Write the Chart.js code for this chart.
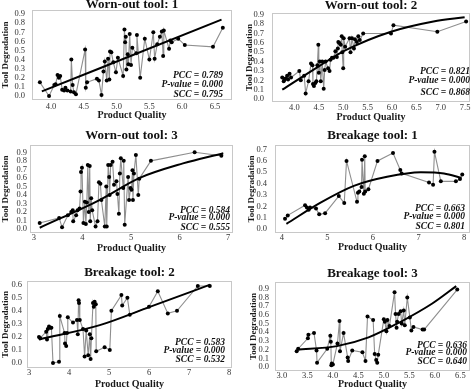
<!DOCTYPE html>
<html>
<head>
<meta charset="utf-8">
<script src="https://cdn.jsdelivr.net/npm/chart.js@4.4.1/dist/chart.umd.min.js"></script>
<style>
  body { margin: 0; background: #fff; }
  #wrap { position: relative; width: 474px; height: 390px; overflow: hidden; }
  .panel { position: absolute; width: 237px; height: 130px; }
</style>
</head>
<body>
<div id="wrap">
  <div class="panel" style="left:0;top:0"><canvas id="c1"></canvas></div>
  <div class="panel" style="left:237px;top:0"><canvas id="c2"></canvas></div>
  <div class="panel" style="left:0;top:130px"><canvas id="c3"></canvas></div>
  <div class="panel" style="left:237px;top:130px"><canvas id="c4"></canvas></div>
  <div class="panel" style="left:0;top:260px"><canvas id="c5"></canvas></div>
  <div class="panel" style="left:237px;top:260px"><canvas id="c6"></canvas></div>
</div>
<script>
const SERIF = "'Liberation Serif', 'Times New Roman', serif";

// Worn-out tool: 1
const wear1Quality = [3.83, 3.97, 4.05, 4.07, 4.10, 4.12, 4.14, 4.17, 4.20, 4.22, 4.25, 4.30, 4.31, 4.33, 4.35, 4.38, 4.52, 4.53, 4.55, 4.70, 4.73, 4.77, 4.80, 4.82, 4.85, 4.87, 4.89, 4.90, 4.92, 4.95, 4.99, 5.02, 5.10, 5.12, 5.13, 5.14, 5.15, 5.17, 5.18, 5.20, 5.22, 5.24, 5.30, 5.31, 5.36, 5.43, 5.50, 5.56, 5.58, 5.62, 5.66, 5.69, 5.71, 5.72, 5.80, 5.82, 5.84, 5.94, 6.04, 6.47, 6.62];
const wear1Degradation = [0.15, 0.00, 0.12, 0.13, 0.23, 0.20, 0.22, 0.07, 0.06, 0.09, 0.06, 0.05, 0.40, 0.12, 0.04, 0.02, 0.51, 0.09, 0.15, 0.19, 0.17, 0.01, 0.27, 0.38, 0.17, 0.41, 0.18, 0.49, 0.48, 0.37, 0.26, 0.42, 0.22, 0.73, 0.59, 0.65, 0.29, 0.46, 0.35, 0.68, 0.34, 0.53, 0.47, 0.67, 0.20, 0.63, 0.40, 0.70, 0.41, 0.57, 0.65, 0.71, 0.44, 0.72, 0.52, 0.61, 0.59, 0.63, 0.56, 0.54, 0.75];
const wear1FitQuality = [3.86, 6.60];
const wear1FitDegradation = [0.05, 0.84];

// Worn-out tool: 2
const wear2Quality = [3.75, 3.78, 3.80, 3.82, 3.85, 3.87, 3.90, 3.93, 4.10, 4.13, 4.20, 4.23, 4.29, 4.34, 4.37, 4.38, 4.40, 4.43, 4.45, 4.47, 4.49, 4.50, 4.52, 4.54, 4.57, 4.60, 4.62, 4.64, 4.69, 4.72, 4.74, 4.77, 4.80, 4.84, 4.87, 4.89, 4.90, 4.92, 4.95, 4.97, 4.98, 5.00, 5.01, 5.04, 5.13, 5.15, 5.18, 5.22, 5.24, 5.28, 5.31, 5.34, 5.41, 5.98, 6.03, 6.93, 7.52];
const wear2Degradation = [0.23, 0.19, 0.21, 0.22, 0.25, 0.21, 0.27, 0.23, 0.30, 0.20, 0.25, 0.06, 0.19, 0.38, 0.36, 0.16, 0.14, 0.17, 0.19, 0.36, 0.58, 0.28, 0.40, 0.19, 0.40, 0.11, 0.31, 0.40, 0.33, 0.30, 0.42, 0.44, 0.44, 0.51, 0.45, 0.54, 0.61, 0.60, 0.58, 0.67, 0.50, 0.33, 0.65, 0.56, 0.65, 0.50, 0.65, 0.54, 0.64, 0.61, 0.67, 0.63, 0.70, 0.70, 0.79, 0.72, 0.83];
const wear2FitQuality = [3.75, 4.5, 5.04, 5.98, 6.85, 7.49];
const wear2FitDegradation = [0.10, 0.35, 0.52, 0.72, 0.83, 0.875];

// Worn-out tool: 3
const wear3Quality = [3.12, 3.52, 3.58, 3.70, 3.77, 3.80, 3.81, 3.87, 3.90, 3.94, 3.96, 3.97, 3.99, 4.02, 4.05, 4.07, 4.09, 4.11, 4.13, 4.15, 4.16, 4.18, 4.20, 4.27, 4.31, 4.34, 4.37, 4.39, 4.46, 4.49, 4.50, 4.53, 4.55, 4.56, 4.58, 4.62, 4.65, 4.70, 4.72, 4.75, 4.77, 4.79, 4.84, 4.85, 4.87, 4.94, 4.96, 4.99, 5.01, 5.03, 5.04, 5.06, 5.10, 5.15, 5.17, 5.41, 6.31, 6.86];
const wear3Degradation = [0.07, 0.13, 0.02, 0.16, 0.20, 0.22, 0.09, 0.16, 0.22, 0.24, 0.44, 0.67, 0.72, 0.07, 0.32, 0.06, 0.31, 0.75, 0.20, 0.74, 0.09, 0.36, 0.22, 0.03, 0.09, 0.55, 0.53, 0.34, 0.03, 0.50, 0.03, 0.75, 0.61, 0.40, 0.75, 0.79, 0.52, 0.56, 0.41, 0.18, 0.65, 0.83, 0.48, 0.80, 0.05, 0.61, 0.34, 0.48, 0.46, 0.69, 0.34, 0.65, 0.87, 0.40, 0.59, 0.80, 0.90, 0.86];
const wear3FitQuality = [3.12, 4.35, 5.18, 6.07, 6.9];
const wear3FitDegradation = [0.015, 0.34, 0.60, 0.77, 0.89];

// Breakage tool: 1
const break1Quality = [4.07, 4.13, 4.51, 4.55, 4.59, 4.62, 4.75, 4.82, 4.95, 5.25, 5.37, 5.42, 5.65, 5.67, 5.70, 5.75, 5.76, 5.80, 5.82, 5.83, 5.90, 6.10, 6.44, 6.60, 6.63, 7.23, 7.32, 7.35, 7.49, 7.82, 7.91, 7.96];
const break1Degradation = [0.09, 0.12, 0.21, 0.19, 0.17, 0.19, 0.18, 0.13, 0.14, 0.29, 0.23, 0.60, 0.24, 0.32, 0.33, 0.37, 0.61, 0.31, 0.64, 0.33, 0.35, 0.60, 0.67, 0.52, 0.49, 0.41, 0.39, 0.68, 0.42, 0.42, 0.44, 0.48];
const break1FitQuality = [4.1, 4.84, 5.58, 6.31, 7.05, 7.56, 7.94];
const break1FitDegradation = [0.045, 0.23, 0.38, 0.46, 0.50, 0.49, 0.45];

// Breakage tool: 2
const break2Quality = [3.25, 3.28, 3.43, 3.45, 3.47, 3.50, 3.53, 3.56, 3.60, 3.75, 3.77, 3.89, 3.90, 3.93, 3.95, 3.97, 4.10, 4.20, 4.22, 4.24, 4.25, 4.27, 4.35, 4.39, 4.43, 4.48, 4.52, 4.54, 4.56, 4.60, 4.62, 4.64, 4.67, 4.68, 4.89, 5.02, 5.06, 5.31, 5.33, 5.46, 5.52, 6.00, 6.22, 6.47, 6.70, 7.22, 7.52];
const break2Degradation = [0.20, 0.19, 0.24, 0.18, 0.26, 0.28, 0.27, 0.27, 0.00, 0.01, 0.36, 0.23, 0.15, 0.13, 0.23, 0.35, 0.31, 0.33, 0.22, 0.48, 0.46, 0.33, 0.26, 0.05, 0.25, 0.06, 0.22, 0.03, 0.19, 0.46, 0.43, 0.47, 0.45, 0.09, 0.12, 0.10, 0.40, 0.52, 0.44, 0.50, 0.37, 0.43, 0.55, 0.38, 0.40, 0.59, 0.59];
const break2FitQuality = [3.25, 4.77, 6.02, 7.53];
const break2FitDegradation = [0.18, 0.29, 0.43, 0.60];

// Breakage tool: 3
const break3Quality = [3.29, 3.32, 3.51, 3.52, 3.63, 3.68, 3.69, 3.89, 3.95, 3.96, 3.97, 3.98, 4.00, 4.09, 4.13, 4.14, 4.21, 4.29, 4.30, 4.38, 4.58, 4.64, 4.68, 4.79, 4.82, 4.85, 4.87, 4.89, 5.00, 5.02, 5.05, 5.07, 5.11, 5.21, 5.23, 5.25, 5.26, 5.29, 5.33, 5.35, 5.39, 5.41, 5.46, 5.51, 5.54, 5.58, 5.76, 5.79, 6.44];
const break3Degradation = [0.18, 0.21, 0.33, 0.37, 0.39, 0.19, 0.05, 0.21, 0.36, 0.29, 0.02, 0.04, 0.03, 0.27, 0.53, 0.18, 0.39, 0.11, 0.07, 0.19, 0.17, 0.07, 0.58, 0.54, 0.15, 0.08, 0.05, 0.14, 0.55, 0.52, 0.41, 0.54, 0.47, 0.86, 0.61, 0.45, 0.52, 0.61, 0.64, 0.50, 0.65, 0.48, 0.80, 0.57, 0.42, 0.46, 0.43, 0.43, 0.89];
const break3FitQuality = [3.29, 4.08, 4.7, 5.33, 5.95, 6.42];
const break3FitDegradation = [0.20, 0.24, 0.34, 0.52, 0.73, 0.93];

// tick labels
const ticksY9 = [0, 0.1, 0.2, 0.3, 0.4, 0.5, 0.6, 0.7, 0.8, 0.9];
const ticksY7 = [0, 0.1, 0.2, 0.3, 0.4, 0.5, 0.6, 0.7];
const ticksY6 = [0, 0.1, 0.2, 0.3, 0.4, 0.5, 0.6];
const ticksX1 = [4.0, 4.5, 5.0, 5.5, 6.0, 6.5];
const ticksX2 = [4.0, 4.5, 5.0, 5.5, 6.0, 6.5, 7.0, 7.5];
const ticksX3 = [3, 4, 5, 6, 7];
const ticksX4 = [4, 5, 6, 7, 8];
const ticksX5 = [3, 4, 5, 6, 7, 8];
const ticksX6 = [3.0, 3.5, 4.0, 4.5, 5.0, 5.5, 6.0, 6.5];

const titles = ["Worn-out tool: 1", "Worn-out tool: 2", "Worn-out tool: 3", "Breakage tool: 1", "Breakage tool: 2", "Breakage tool: 3"];
const pcc = ["0.789", "0.821", "0.584", "0.663", "0.583", "0.636"];
const pValue = ["0.000", "0.000", "0.000", "0.000", "0.000", "0.000"];
const scc = ["0.795", "0.868", "0.555", "0.801", "0.532", "0.640"];

function zip(xs, ys) {
  return xs.map((x, i) => ({ x: x, y: ys[i] }));
}

// light frame round the plot area + the stats text
const frameAndStats = {
  id: "frameAndStats",
  beforeDatasetsDraw(chart) {
    const { ctx, chartArea: a } = chart;
    ctx.save();
    ctx.strokeStyle = "#c8c8c8";
    ctx.lineWidth = 1;
    ctx.strokeRect(a.left + 0.5, a.top + 0.5, a.right - a.left - 1, a.bottom - a.top - 1);
    ctx.restore();
  },
  afterDatasetsDraw(chart, args, opts) {
    const ctx = chart.ctx;
    ctx.save();
    ctx.fillStyle = "#111";
    ctx.font = "italic bold 9.5px " + SERIF;
    ctx.textAlign = "right";
    ctx.textBaseline = "middle";
    opts.lines.forEach((t, i) => ctx.fillText(t, opts.right, opts.ys[i]));
    ctx.restore();
  }
};

function panel(id, p) {
  const decimals = p.decimals;
  new Chart(document.getElementById(id), {
    type: "scatter",
    plugins: [frameAndStats],
    data: {
      datasets: [
        {
          data: zip(p.fitX, p.fitY),
          showLine: true,
          borderColor: "#000",
          borderWidth: 2,
          pointRadius: 0,
          cubicInterpolationMode: "monotone"
        },
        {
          data: zip(p.x, p.y),
          showLine: true,
          borderColor: "#8f8f8f",
          borderWidth: 1.1,
          pointRadius: 2,
          pointBackgroundColor: "#000",
          pointBorderWidth: 0
        }
      ]
    },
    options: {
      responsive: true,
      maintainAspectRatio: false,
      animation: false,
      layout: { padding: { left: 0, right: 237 - p.box[1], top: 0, bottom: 0 } },
      plugins: {
        legend: { display: false },
        tooltip: { enabled: false },
        title: {
          display: true,
          text: p.title,
          fullSize: false,
          color: "#111",
          font: { family: SERIF, size: 13, weight: "bold", lineHeight: 0.6 },
          padding: { top: p.titleY - 3.9, bottom: p.box[2] - p.titleY - 3.9 }
        },
        frameAndStats: {
          lines: ["PCC = " + p.pcc, "P-value = " + p.pv, "SCC = " + p.scc],
          right: p.statRight,
          ys: p.statYs
        }
      },
      scales: {
        x: {
          type: "linear",
          min: p.xRange[0],
          max: p.xRange[1],
          grid: { display: false, drawTicks: false },
          border: { display: false },
          afterBuildTicks: s => { s.ticks = p.xTicks.map(v => ({ value: v })); },
          afterFit: s => { s.height = 130 - p.box[3]; s.paddingLeft = 0; s.paddingRight = 0; },
          ticks: {
            padding: p.xPad,
            color: "#333",
            font: { family: SERIF, size: 8.5 },
            maxRotation: 0,
            autoSkip: false,
            callback: v => v.toFixed(decimals)
          },
          title: {
            display: true,
            text: "Product Quality",
            color: "#1a1a1a",
            font: { family: SERIF, size: 10, weight: "bold", lineHeight: 1.2 },
            padding: { top: 0, bottom: Math.max(0, 124 - p.xTitleY) }
          }
        },
        y: {
          type: "linear",
          min: p.yRange[0],
          max: p.yRange[1],
          grid: { display: false, drawTicks: false },
          border: { display: false },
          afterBuildTicks: s => { s.ticks = p.yTicks.map(v => ({ value: v })); },
          afterFit: s => { s.width = p.box[0]; s.paddingTop = 0; s.paddingBottom = 0; },
          ticks: {
            padding: p.yPad,
            color: "#333",
            font: { family: SERIF, size: 8.5 },
            autoSkip: false,
            callback: v => v.toFixed(1)
          },
          title: {
            display: true,
            text: "Tool Degradation",
            color: "#1a1a1a",
            font: { family: SERIF, size: 9, weight: "bold", lineHeight: 1.2 },
            padding: { top: Math.max(0, p.yTitleX - 5.4), bottom: 0 }
          }
        }
      }
    }
  });
}

panel("c1", {
  title: titles[0], pcc: pcc[0], pv: pValue[0], scc: scc[0],
  x: wear1Quality, y: wear1Degradation, fitX: wear1FitQuality, fitY: wear1FitDegradation,
  xTicks: ticksX1, yTicks: ticksY9, decimals: 1,
  xRange: [3.71, 6.76], yRange: [-0.044, 0.945],
  box: [32, 232, 10, 100], titleY: 4.5, xTitleY: 115, yTitleX: 6, xPad: 2, yPad: 7,
  statRight: 223, statYs: [76, 85, 95]
});

panel("c2", {
  title: titles[1], pcc: pcc[1], pv: pValue[1], scc: scc[1],
  x: wear2Quality, y: wear2Degradation, fitX: wear2FitQuality, fitY: wear2FitDegradation,
  xTicks: ticksX2, yTicks: ticksY9, decimals: 1,
  xRange: [3.54, 7.6], yRange: [-0.032, 0.92],
  box: [35, 237, 13, 102], titleY: 5.5, xTitleY: 117, yTitleX: 13, xPad: 1, yPad: 8,
  statRight: 233, statYs: [72, 81, 93]
});

panel("c3", {
  title: titles[2], pcc: pcc[2], pv: pValue[2], scc: scc[2],
  x: wear3Quality, y: wear3Degradation, fitX: wear3FitQuality, fitY: wear3FitDegradation,
  xTicks: ticksX3, yTicks: ticksY9, decimals: 0,
  xRange: [2.92, 7.1], yRange: [-0.047, 0.986],
  box: [30, 233, 15, 103], titleY: 6, xTitleY: 118, yTitleX: 6, xPad: 0, yPad: 3,
  statRight: 230, statYs: [81, 88, 98]
});

panel("c4", {
  title: titles[3], pcc: pcc[3], pv: pValue[3], scc: scc[3],
  x: break1Quality, y: break1Degradation, fitX: break1FitQuality, fitY: break1FitDegradation,
  xTicks: ticksX4, yTicks: ticksY7, decimals: 0,
  xRange: [3.85, 8.13], yRange: [-0.035, 0.74],
  box: [38, 233, 15, 103], titleY: 6, xTitleY: 117, yTitleX: 15, xPad: 0, yPad: 8,
  statRight: 228, statYs: [79, 87, 97]
});

panel("c5", {
  title: titles[4], pcc: pcc[4], pv: pValue[4], scc: scc[4],
  x: break2Quality, y: break2Degradation, fitX: break2FitQuality, fitY: break2FitDegradation,
  xTicks: ticksX5, yTicks: ticksY6, decimals: 0,
  xRange: [2.95, 8.075], yRange: [-0.038, 0.628],
  box: [27, 232, 21, 108], titleY: 13, xTitleY: 124, yTitleX: 4, xPad: 0, yPad: 5,
  statRight: 225, statYs: [83, 91, 100]
});

panel("c6", {
  title: titles[5], pcc: pcc[5], pv: pValue[5], scc: scc[5],
  x: break3Quality, y: break3Degradation, fitX: break3FitQuality, fitY: break3FitDegradation,
  xTicks: ticksX6, yTicks: ticksY9, decimals: 1,
  xRange: [2.865, 6.69], yRange: [-0.046, 0.977],
  box: [38, 237, 22, 111], titleY: 14, xTitleY: 126, yTitleX: 17, xPad: 0, yPad: 6,
  statRight: 230, statYs: [86, 93, 102]
});
</script>
</body>
</html>
